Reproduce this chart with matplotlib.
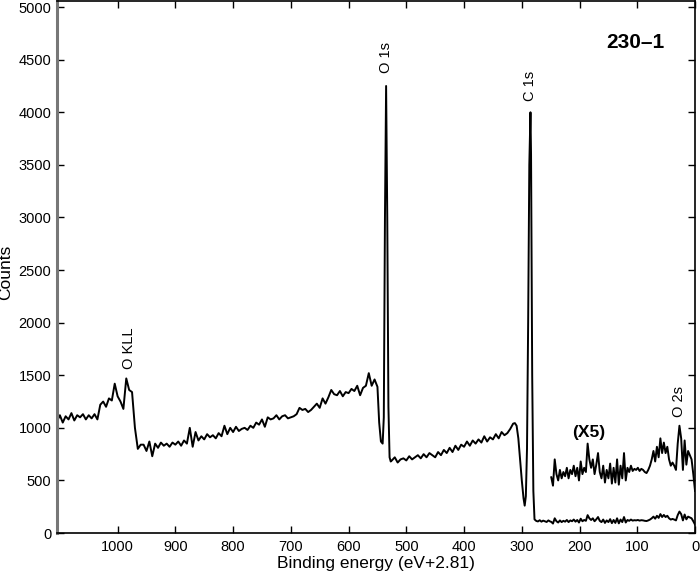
import numpy as np
import matplotlib
matplotlib.use("Agg")
import matplotlib.pyplot as plt

plt.rcParams['font.family'] = ['Liberation Sans', 'DejaVu Sans']

# survey spectrum
# 1105 -> 550 eV, 5 eV steps
be_1 = list(range(1105, 549, -5))
counts_1 = [1060, 1120, 1050, 1110, 1080, 1140, 1070, 1120, 1100, 1130,
            1080, 1120, 1090, 1130, 1080, 1220, 1250, 1200, 1280, 1260,
            1420, 1300, 1250, 1180, 1470, 1360, 1340, 1000, 800, 840,
            840, 780, 870, 730, 850, 810, 860, 830, 850, 820, 860,
            840, 870, 830, 880, 850, 1000, 820, 960, 880, 920,
            890, 940, 910, 930, 900, 950, 920, 1020, 940, 1000,
            960, 1010, 970, 990, 1000, 980, 1020, 1000, 1050, 1030,
            1080, 1010, 1100, 1080, 1090, 1120, 1080, 1110, 1120, 1090,
            1100, 1110, 1130, 1190, 1170, 1180, 1150, 1170, 1200, 1230,
            1190, 1280, 1230, 1290, 1360, 1320, 1310, 1350, 1300, 1340,
            1330, 1370, 1350, 1400, 1310, 1380, 1400, 1520, 1400, 1460,
            1390]
# O 1s region
be_o1s = [547, 544, 541, 539, 537, 535, 533, 531, 529, 527]
counts_o1s = [1050, 870, 850, 1100, 3000, 4250, 3000, 1200, 720, 680]
# 525 -> 320 eV
be_2 = list(range(525, 319, -5))
counts_2 = [690, 720, 670, 700, 710, 690, 730, 700, 720, 740,
            710, 750, 720, 760, 740, 720, 770, 740, 790, 760,
            810, 770, 830, 790, 840, 820, 870, 830, 880, 850,
            890, 860, 920, 870, 910, 890, 940, 900, 960, 930,
            950, 990]
# C 1s region
be_c1s = [315, 312, 309, 306, 303, 300, 297, 295, 293, 291, 289, 287, 285,
          284, 282, 280, 278]
counts_c1s = [1040, 1045, 1020, 900, 700, 500, 330, 260, 350, 800, 2000,
              3500, 4000, 3600, 1500, 400, 130]
# 275 -> 251 eV
be_3 = list(range(275, 250, -3))
counts_3 = [115, 110, 122, 108, 118, 112, 105, 120, 110]
# low binding energy part (also shown magnified x5)
be_low = list(range(249, -1, -3))
counts_low = [106, 90, 140, 112, 100, 120, 104, 116, 108, 124,
              104, 120, 112, 128, 108, 124, 100, 136, 112, 124,
              116, 170, 140, 124, 140, 112, 130, 152, 116, 104,
              128, 96, 120, 104, 132, 94, 124, 96, 140, 92,
              128, 104, 152, 100, 124, 116, 128, 118, 122, 120,
              124, 118, 122, 120, 116, 114, 120, 128, 140, 156,
              136, 164, 144, 180, 152, 172, 152, 164, 140, 128,
              134, 128, 120, 170, 204, 180, 120, 176, 130, 156,
              148, 140, 112, 80]
zoom_factor = 5

peak_labels = ["O KLL", "O 1s", "C 1s", "O 2s"]
peak_pos = [(980, 1560), (535, 4370), (285, 4110), (27, 1100)]

be = be_1 + be_o1s + be_2 + be_c1s + be_3 + be_low
counts = counts_1 + counts_o1s + counts_2 + counts_c1s + counts_3 + counts_low

fig = plt.figure(figsize=(7, 5.75), dpi=100)
ax = fig.add_axes([0.0814, 0.073, 0.9115, 0.926])

ax.plot(be, counts, color="black", lw=1.4)
ax.plot(be_low, zoom_factor * np.array(counts_low), color="black", lw=1.4)

for lab, (x, y) in zip(peak_labels, peak_pos):
    ax.text(x, y, lab, rotation=90, ha="center", va="bottom", fontsize=10.5)
ax.text(185, 960, "(X5)", ha="center", va="center", fontsize=12.5,
        fontweight="bold")
ax.text(104, 4660, "230\u20131", ha="center", va="center", fontsize=15,
        fontweight="bold")

ax.set_xlim(1105, 0)
ax.set_ylim(0, 5062)
ax.set_xticks(range(1000, -1, -100))
ax.set_yticks(range(0, 5001, 500))
ax.tick_params(direction="in", top=True, right=True, length=5, width=1,
               labelsize=10.5, labeltop=False, labelright=False)
ax.tick_params(axis="x", pad=5)
ax.tick_params(axis="y", pad=4)
for s in ["top", "right", "bottom"]:
    ax.spines[s].set_linewidth(1.2)
ax.spines["left"].set_color("#777777")
ax.spines["left"].set_linewidth(2.2)

ax.set_xlabel("Binding energy (eV+2.81)", fontsize=12.5)
ax.set_ylabel("Counts", fontsize=12.5)
ax.xaxis.set_label_coords(0.5, -0.044)
ax.yaxis.set_label_coords(-0.068, 0.49)

plt.savefig("out.png", dpi=100)
